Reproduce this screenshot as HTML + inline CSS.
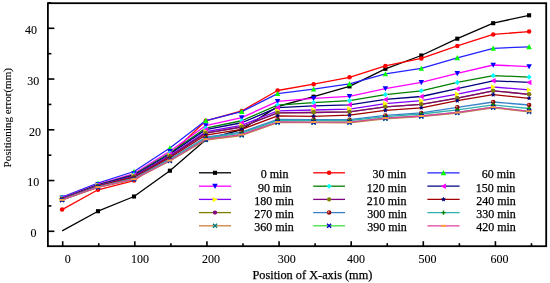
<!DOCTYPE html>
<html><head><meta charset="utf-8"><style>
html,body{margin:0;padding:0;background:#fff;}
body{width:550px;height:283px;overflow:hidden;}
svg{display:block;}
text{font-family:"Liberation Serif","Times New Roman",serif;fill:#000;stroke:#000;stroke-width:0.25px;}
.tl{font-size:12px;}
.tl text{stroke-width:0.1px;}
.lg{font-size:12px;}
.at{font-size:12.3px;}
.yt{font-size:11.1px;stroke-width:0.1px;}
</style></head><body>
<svg width="550" height="283" viewBox="0 0 550 283">
<rect width="550" height="283" fill="#fff"/>
<g>
<polyline points="62.10,230.90 98.00,211.20 134.00,196.50 169.90,170.70 205.80,139.70 241.70,129.50 277.60,106.50 313.60,96.70 349.50,86.40 385.40,68.80 421.30,55.50 457.30,38.70 493.20,23.20 529.10,15.30" fill="none" stroke="#000000" stroke-width="1.3" stroke-linejoin="round"/>
<rect x="95.95" y="209.15" width="4.10" height="4.10" fill="#000000"/>
<rect x="131.95" y="194.45" width="4.10" height="4.10" fill="#000000"/>
<rect x="167.85" y="168.65" width="4.10" height="4.10" fill="#000000"/>
<rect x="203.75" y="137.65" width="4.10" height="4.10" fill="#000000"/>
<rect x="239.65" y="127.45" width="4.10" height="4.10" fill="#000000"/>
<rect x="275.55" y="104.45" width="4.10" height="4.10" fill="#000000"/>
<rect x="311.55" y="94.65" width="4.10" height="4.10" fill="#000000"/>
<rect x="347.45" y="84.35" width="4.10" height="4.10" fill="#000000"/>
<rect x="383.35" y="66.75" width="4.10" height="4.10" fill="#000000"/>
<rect x="419.25" y="53.45" width="4.10" height="4.10" fill="#000000"/>
<rect x="455.25" y="36.65" width="4.10" height="4.10" fill="#000000"/>
<rect x="491.15" y="21.15" width="4.10" height="4.10" fill="#000000"/>
<rect x="527.05" y="13.25" width="4.10" height="4.10" fill="#000000"/>
<polyline points="62.10,209.60 98.00,189.80 134.00,180.60 169.90,155.00 205.80,120.80 241.70,111.00 277.60,90.50 313.60,84.20 349.50,77.30 385.40,65.90 421.30,58.40 457.30,45.90 493.20,34.40 529.10,31.60" fill="none" stroke="#ff0000" stroke-width="1.3" stroke-linejoin="round"/>
<circle cx="62.10" cy="209.60" r="2.25" fill="#ff0000"/>
<circle cx="98.00" cy="189.80" r="2.25" fill="#ff0000"/>
<circle cx="134.00" cy="180.60" r="2.25" fill="#ff0000"/>
<circle cx="169.90" cy="155.00" r="2.25" fill="#ff0000"/>
<circle cx="205.80" cy="120.80" r="2.25" fill="#ff0000"/>
<circle cx="241.70" cy="111.00" r="2.25" fill="#ff0000"/>
<circle cx="277.60" cy="90.50" r="2.25" fill="#ff0000"/>
<circle cx="313.60" cy="84.20" r="2.25" fill="#ff0000"/>
<circle cx="349.50" cy="77.30" r="2.25" fill="#ff0000"/>
<circle cx="385.40" cy="65.90" r="2.25" fill="#ff0000"/>
<circle cx="421.30" cy="58.40" r="2.25" fill="#ff0000"/>
<circle cx="457.30" cy="45.90" r="2.25" fill="#ff0000"/>
<circle cx="493.20" cy="34.40" r="2.25" fill="#ff0000"/>
<circle cx="529.10" cy="31.60" r="2.25" fill="#ff0000"/>
<polyline points="62.10,197.20 98.00,183.20 134.00,171.50 169.90,148.00 205.80,120.60 241.70,111.60 277.60,93.70 313.60,89.20 349.50,83.80 385.40,73.90 421.30,68.40 457.30,57.80 493.20,48.30 529.10,46.80" fill="none" stroke="#2222ff" stroke-width="1.3" stroke-linejoin="round"/>
<polygon points="62.10,194.45 64.85,199.55 59.35,199.55" fill="#00ff00"/>
<polygon points="98.00,180.45 100.75,185.55 95.25,185.55" fill="#00ff00"/>
<polygon points="134.00,168.75 136.75,173.85 131.25,173.85" fill="#00ff00"/>
<polygon points="169.90,145.25 172.65,150.35 167.15,150.35" fill="#00ff00"/>
<polygon points="205.80,117.85 208.55,122.95 203.05,122.95" fill="#00ff00"/>
<polygon points="241.70,108.85 244.45,113.95 238.95,113.95" fill="#00ff00"/>
<polygon points="277.60,90.95 280.35,96.05 274.85,96.05" fill="#00ff00"/>
<polygon points="313.60,86.45 316.35,91.55 310.85,91.55" fill="#00ff00"/>
<polygon points="349.50,81.05 352.25,86.15 346.75,86.15" fill="#00ff00"/>
<polygon points="385.40,71.15 388.15,76.25 382.65,76.25" fill="#00ff00"/>
<polygon points="421.30,65.65 424.05,70.75 418.55,70.75" fill="#00ff00"/>
<polygon points="457.30,55.05 460.05,60.15 454.55,60.15" fill="#00ff00"/>
<polygon points="493.20,45.55 495.95,50.65 490.45,50.65" fill="#00ff00"/>
<polygon points="529.10,44.05 531.85,49.15 526.35,49.15" fill="#00ff00"/>
<polyline points="62.10,197.91 98.00,184.25 134.00,173.54 169.90,151.31 205.80,125.55 241.70,117.69 277.60,101.30 313.60,98.40 349.50,96.40 385.40,88.60 421.30,82.40 457.30,73.40 493.20,65.00 529.10,66.60" fill="none" stroke="#ff00ff" stroke-width="1.3" stroke-linejoin="round"/>
<polygon points="62.10,200.66 64.85,195.56 59.35,195.56" fill="#0000ff"/>
<polygon points="98.00,187.00 100.75,181.90 95.25,181.90" fill="#0000ff"/>
<polygon points="134.00,176.29 136.75,171.19 131.25,171.19" fill="#0000ff"/>
<polygon points="169.90,154.06 172.65,148.97 167.15,148.97" fill="#0000ff"/>
<polygon points="205.80,128.30 208.55,123.20 203.05,123.20" fill="#0000ff"/>
<polygon points="241.70,120.44 244.45,115.34 238.95,115.34" fill="#0000ff"/>
<polygon points="277.60,104.05 280.35,98.95 274.85,98.95" fill="#0000ff"/>
<polygon points="313.60,101.15 316.35,96.05 310.85,96.05" fill="#0000ff"/>
<polygon points="349.50,99.15 352.25,94.05 346.75,94.05" fill="#0000ff"/>
<polygon points="385.40,91.35 388.15,86.25 382.65,86.25" fill="#0000ff"/>
<polygon points="421.30,85.15 424.05,80.05 418.55,80.05" fill="#0000ff"/>
<polygon points="457.30,76.15 460.05,71.05 454.55,71.05" fill="#0000ff"/>
<polygon points="493.20,67.75 495.95,62.65 490.45,62.65" fill="#0000ff"/>
<polygon points="529.10,69.35 531.85,64.25 526.35,64.25" fill="#0000ff"/>
<polyline points="62.10,198.27 98.00,184.77 134.00,174.56 169.90,152.98 205.80,128.03 241.70,120.75 277.60,105.10 313.60,102.60 349.50,100.60 385.40,94.60 421.30,90.80 457.30,82.40 493.20,75.60 529.10,77.10" fill="none" stroke="#008000" stroke-width="1.3" stroke-linejoin="round"/>
<polygon points="62.10,195.72 64.65,198.27 62.10,200.82 59.55,198.27" fill="#00ffff"/>
<polygon points="98.00,182.22 100.55,184.77 98.00,187.32 95.45,184.77" fill="#00ffff"/>
<polygon points="134.00,172.01 136.55,174.56 134.00,177.11 131.45,174.56" fill="#00ffff"/>
<polygon points="169.90,150.43 172.45,152.98 169.90,155.53 167.35,152.98" fill="#00ffff"/>
<polygon points="205.80,125.48 208.35,128.03 205.80,130.58 203.25,128.03" fill="#00ffff"/>
<polygon points="241.70,118.20 244.25,120.75 241.70,123.30 239.15,120.75" fill="#00ffff"/>
<polygon points="277.60,102.55 280.15,105.10 277.60,107.65 275.05,105.10" fill="#00ffff"/>
<polygon points="313.60,100.05 316.15,102.60 313.60,105.15 311.05,102.60" fill="#00ffff"/>
<polygon points="349.50,98.05 352.05,100.60 349.50,103.15 346.95,100.60" fill="#00ffff"/>
<polygon points="385.40,92.05 387.95,94.60 385.40,97.15 382.85,94.60" fill="#00ffff"/>
<polygon points="421.30,88.25 423.85,90.80 421.30,93.35 418.75,90.80" fill="#00ffff"/>
<polygon points="457.30,79.85 459.85,82.40 457.30,84.95 454.75,82.40" fill="#00ffff"/>
<polygon points="493.20,73.05 495.75,75.60 493.20,78.15 490.65,75.60" fill="#00ffff"/>
<polygon points="529.10,74.55 531.65,77.10 529.10,79.65 526.55,77.10" fill="#00ffff"/>
<polyline points="62.10,198.50 98.00,185.11 134.00,175.23 169.90,154.06 205.80,129.64 241.70,122.74 277.60,107.60 313.60,105.90 349.50,104.80 385.40,99.40 421.30,96.50 457.30,88.70 493.20,80.80 529.10,82.40" fill="none" stroke="#000080" stroke-width="1.3" stroke-linejoin="round"/>
<polygon points="59.35,198.50 64.45,195.75 64.45,201.25" fill="#ff00ff"/>
<polygon points="95.25,185.11 100.35,182.36 100.35,187.86" fill="#ff00ff"/>
<polygon points="131.25,175.23 136.35,172.48 136.35,177.98" fill="#ff00ff"/>
<polygon points="167.15,154.06 172.25,151.31 172.25,156.81" fill="#ff00ff"/>
<polygon points="203.05,129.64 208.15,126.89 208.15,132.39" fill="#ff00ff"/>
<polygon points="238.95,122.74 244.05,119.99 244.05,125.49" fill="#ff00ff"/>
<polygon points="274.85,107.60 279.95,104.85 279.95,110.35" fill="#ff00ff"/>
<polygon points="310.85,105.90 315.95,103.15 315.95,108.65" fill="#ff00ff"/>
<polygon points="346.75,104.80 351.85,102.05 351.85,107.55" fill="#ff00ff"/>
<polygon points="382.65,99.40 387.75,96.65 387.75,102.15" fill="#ff00ff"/>
<polygon points="418.55,96.50 423.65,93.75 423.65,99.25" fill="#ff00ff"/>
<polygon points="454.55,88.70 459.65,85.95 459.65,91.45" fill="#ff00ff"/>
<polygon points="490.45,80.80 495.55,78.05 495.55,83.55" fill="#ff00ff"/>
<polygon points="526.35,82.40 531.45,79.65 531.45,85.15" fill="#ff00ff"/>
<polyline points="62.10,198.81 98.00,185.55 134.00,176.09 169.90,155.46 205.80,131.74 241.70,125.32 277.60,110.80 313.60,110.00 349.50,109.10 385.40,103.70 421.30,100.70 457.30,94.20 493.20,87.00 529.10,89.90" fill="none" stroke="#8000ff" stroke-width="1.3" stroke-linejoin="round"/>
<polygon points="64.85,198.81 59.75,196.06 59.75,201.56" fill="#ffff00"/>
<polygon points="100.75,185.55 95.65,182.80 95.65,188.30" fill="#ffff00"/>
<polygon points="136.75,176.09 131.65,173.34 131.65,178.84" fill="#ffff00"/>
<polygon points="172.65,155.46 167.55,152.71 167.55,158.21" fill="#ffff00"/>
<polygon points="208.55,131.74 203.45,128.99 203.45,134.49" fill="#ffff00"/>
<polygon points="244.45,125.32 239.35,122.57 239.35,128.07" fill="#ffff00"/>
<polygon points="280.35,110.80 275.25,108.05 275.25,113.55" fill="#ffff00"/>
<polygon points="316.35,110.00 311.25,107.25 311.25,112.75" fill="#ffff00"/>
<polygon points="352.25,109.10 347.15,106.35 347.15,111.85" fill="#ffff00"/>
<polygon points="388.15,103.70 383.05,100.95 383.05,106.45" fill="#ffff00"/>
<polygon points="424.05,100.70 418.95,97.95 418.95,103.45" fill="#ffff00"/>
<polygon points="460.05,94.20 454.95,91.45 454.95,96.95" fill="#ffff00"/>
<polygon points="495.95,87.00 490.85,84.25 490.85,89.75" fill="#ffff00"/>
<polygon points="531.85,89.90 526.75,87.15 526.75,92.65" fill="#ffff00"/>
<polyline points="62.10,199.00 98.00,185.84 134.00,176.65 169.90,156.37 205.80,133.09 241.70,126.99 277.60,112.90 313.60,112.50 349.50,111.90 385.40,106.80 421.30,104.40 457.30,98.20 493.20,90.80 529.10,94.30" fill="none" stroke="#808000" stroke-width="1.3" stroke-linejoin="round"/>
<circle cx="62.10" cy="199.00" r="2.15" fill="#800080"/>
<circle cx="98.00" cy="185.84" r="2.15" fill="#800080"/>
<circle cx="134.00" cy="176.65" r="2.15" fill="#800080"/>
<circle cx="169.90" cy="156.37" r="2.15" fill="#800080"/>
<circle cx="205.80" cy="133.09" r="2.15" fill="#800080"/>
<circle cx="241.70" cy="126.99" r="2.15" fill="#800080"/>
<circle cx="277.60" cy="112.90" r="2.15" fill="#800080"/>
<circle cx="313.60" cy="112.50" r="2.15" fill="#800080"/>
<circle cx="349.50" cy="111.90" r="2.15" fill="#800080"/>
<circle cx="385.40" cy="106.80" r="2.15" fill="#800080"/>
<circle cx="421.30" cy="104.40" r="2.15" fill="#800080"/>
<circle cx="457.30" cy="98.20" r="2.15" fill="#800080"/>
<circle cx="493.20" cy="90.80" r="2.15" fill="#800080"/>
<circle cx="529.10" cy="94.30" r="2.15" fill="#800080"/>
<polyline points="62.10,199.00 98.00,185.84 134.00,176.65 169.90,156.37 205.80,133.09 241.70,126.99 277.60,112.90 313.60,112.50 349.50,111.90 385.40,106.80 421.30,104.40 457.30,98.20 493.20,90.80 529.10,94.30" fill="none" stroke="#800080" stroke-width="1.3" stroke-linejoin="round"/>
<circle cx="62.10" cy="199.00" r="2.15" fill="#808000"/>
<circle cx="98.00" cy="185.84" r="2.15" fill="#808000"/>
<circle cx="134.00" cy="176.65" r="2.15" fill="#808000"/>
<circle cx="169.90" cy="156.37" r="2.15" fill="#808000"/>
<circle cx="205.80" cy="133.09" r="2.15" fill="#808000"/>
<circle cx="241.70" cy="126.99" r="2.15" fill="#808000"/>
<circle cx="277.60" cy="112.90" r="2.15" fill="#808000"/>
<circle cx="313.60" cy="112.50" r="2.15" fill="#808000"/>
<circle cx="349.50" cy="111.90" r="2.15" fill="#808000"/>
<circle cx="385.40" cy="106.80" r="2.15" fill="#808000"/>
<circle cx="421.30" cy="104.40" r="2.15" fill="#808000"/>
<circle cx="457.30" cy="98.20" r="2.15" fill="#808000"/>
<circle cx="493.20" cy="90.80" r="2.15" fill="#808000"/>
<circle cx="529.10" cy="94.30" r="2.15" fill="#808000"/>
<polyline points="62.10,199.29 98.00,186.25 134.00,177.46 169.90,157.69 205.80,135.05 241.70,129.41 277.60,115.90 313.60,116.30 349.50,115.20 385.40,110.40 421.30,107.80 457.30,100.60 493.20,94.60 529.10,98.30" fill="none" stroke="#a00000" stroke-width="1.3" stroke-linejoin="round"/>
<polygon points="62.10,196.74 62.85,198.25 64.53,198.50 63.31,199.68 63.60,201.35 62.10,200.56 60.60,201.35 60.89,199.68 59.67,198.50 61.35,198.25" fill="#000080"/>
<polygon points="98.00,183.70 98.75,185.22 100.43,185.47 99.21,186.65 99.50,188.32 98.00,187.53 96.50,188.32 96.79,186.65 95.57,185.47 97.25,185.22" fill="#000080"/>
<polygon points="134.00,174.91 134.75,176.43 136.43,176.67 135.21,177.85 135.50,179.52 134.00,178.74 132.50,179.52 132.79,177.85 131.57,176.67 133.25,176.43" fill="#000080"/>
<polygon points="169.90,155.13 170.65,156.65 172.33,156.90 171.11,158.08 171.40,159.75 169.90,158.96 168.40,159.75 168.69,158.08 167.47,156.90 169.15,156.65" fill="#000080"/>
<polygon points="205.80,132.50 206.55,134.02 208.23,134.27 207.01,135.45 207.30,137.12 205.80,136.33 204.30,137.12 204.59,135.45 203.37,134.27 205.05,134.02" fill="#000080"/>
<polygon points="241.70,126.86 242.45,128.37 244.13,128.62 242.91,129.80 243.20,131.47 241.70,130.68 240.20,131.47 240.49,129.80 239.27,128.62 240.95,128.37" fill="#000080"/>
<polygon points="277.60,113.35 278.35,114.87 280.03,115.11 278.81,116.29 279.10,117.96 277.60,117.18 276.10,117.96 276.39,116.29 275.17,115.11 276.85,114.87" fill="#000080"/>
<polygon points="313.60,113.75 314.35,115.27 316.03,115.51 314.81,116.69 315.10,118.36 313.60,117.58 312.10,118.36 312.39,116.69 311.17,115.51 312.85,115.27" fill="#000080"/>
<polygon points="349.50,112.65 350.25,114.17 351.93,114.41 350.71,115.59 351.00,117.26 349.50,116.48 348.00,117.26 348.29,115.59 347.07,114.41 348.75,114.17" fill="#000080"/>
<polygon points="385.40,107.85 386.15,109.37 387.83,109.61 386.61,110.79 386.90,112.46 385.40,111.68 383.90,112.46 384.19,110.79 382.97,109.61 384.65,109.37" fill="#000080"/>
<polygon points="421.30,105.25 422.05,106.77 423.73,107.01 422.51,108.19 422.80,109.86 421.30,109.08 419.80,109.86 420.09,108.19 418.87,107.01 420.55,106.77" fill="#000080"/>
<polygon points="457.30,98.05 458.05,99.57 459.73,99.81 458.51,100.99 458.80,102.66 457.30,101.88 455.80,102.66 456.09,100.99 454.87,99.81 456.55,99.57" fill="#000080"/>
<polygon points="493.20,92.05 493.95,93.57 495.63,93.81 494.41,94.99 494.70,96.66 493.20,95.88 491.70,96.66 491.99,94.99 490.77,93.81 492.45,93.57" fill="#000080"/>
<polygon points="529.10,95.75 529.85,97.27 531.53,97.51 530.31,98.69 530.60,100.36 529.10,99.58 527.60,100.36 527.89,98.69 526.67,97.51 528.35,97.27" fill="#000080"/>
<polyline points="62.10,199.61 98.00,186.72 134.00,178.37 169.90,159.17 205.80,137.26 241.70,132.13 277.60,119.30 313.60,119.60 349.50,119.70 385.40,115.40 421.30,112.90 457.30,107.30 493.20,102.00 529.10,105.00" fill="none" stroke="#3a80c8" stroke-width="1.3" stroke-linejoin="round"/>
<circle cx="62.10" cy="199.61" r="2.25" fill="#900000"/><circle cx="61.50" cy="199.01" r="0.9" fill="#e08080"/>
<circle cx="98.00" cy="186.72" r="2.25" fill="#900000"/><circle cx="97.40" cy="186.12" r="0.9" fill="#e08080"/>
<circle cx="134.00" cy="178.37" r="2.25" fill="#900000"/><circle cx="133.40" cy="177.77" r="0.9" fill="#e08080"/>
<circle cx="169.90" cy="159.17" r="2.25" fill="#900000"/><circle cx="169.30" cy="158.57" r="0.9" fill="#e08080"/>
<circle cx="205.80" cy="137.26" r="2.25" fill="#900000"/><circle cx="205.20" cy="136.66" r="0.9" fill="#e08080"/>
<circle cx="241.70" cy="132.13" r="2.25" fill="#900000"/><circle cx="241.10" cy="131.53" r="0.9" fill="#e08080"/>
<circle cx="277.60" cy="119.30" r="2.25" fill="#900000"/><circle cx="277.00" cy="118.70" r="0.9" fill="#e08080"/>
<circle cx="313.60" cy="119.60" r="2.25" fill="#900000"/><circle cx="313.00" cy="119.00" r="0.9" fill="#e08080"/>
<circle cx="349.50" cy="119.70" r="2.25" fill="#900000"/><circle cx="348.90" cy="119.10" r="0.9" fill="#e08080"/>
<circle cx="385.40" cy="115.40" r="2.25" fill="#900000"/><circle cx="384.80" cy="114.80" r="0.9" fill="#e08080"/>
<circle cx="421.30" cy="112.90" r="2.25" fill="#900000"/><circle cx="420.70" cy="112.30" r="0.9" fill="#e08080"/>
<circle cx="457.30" cy="107.30" r="2.25" fill="#900000"/><circle cx="456.70" cy="106.70" r="0.9" fill="#e08080"/>
<circle cx="493.20" cy="102.00" r="2.25" fill="#900000"/><circle cx="492.60" cy="101.40" r="0.9" fill="#e08080"/>
<circle cx="529.10" cy="105.00" r="2.25" fill="#900000"/><circle cx="528.50" cy="104.40" r="0.9" fill="#e08080"/>
<polyline points="62.10,199.72 98.00,186.89 134.00,178.70 169.90,159.70 205.80,138.06 241.70,133.11 277.60,120.30 313.60,120.40 349.50,120.50 385.40,116.60 421.30,114.00 457.30,109.80 493.20,104.80 529.10,108.50" fill="none" stroke="#30b0b0" stroke-width="1.3" stroke-linejoin="round"/>
<path d="M60.05 199.72H64.15M62.10 197.67V201.77" stroke="#008000" stroke-width="1.4" fill="none"/>
<path d="M95.95 186.89H100.05M98.00 184.84V188.94" stroke="#008000" stroke-width="1.4" fill="none"/>
<path d="M131.95 178.70H136.05M134.00 176.65V180.75" stroke="#008000" stroke-width="1.4" fill="none"/>
<path d="M167.85 159.70H171.95M169.90 157.65V161.75" stroke="#008000" stroke-width="1.4" fill="none"/>
<path d="M203.75 138.06H207.85M205.80 136.01V140.11" stroke="#008000" stroke-width="1.4" fill="none"/>
<path d="M239.65 133.11H243.75M241.70 131.06V135.16" stroke="#008000" stroke-width="1.4" fill="none"/>
<path d="M275.55 120.30H279.65M277.60 118.25V122.35" stroke="#008000" stroke-width="1.4" fill="none"/>
<path d="M311.55 120.40H315.65M313.60 118.35V122.45" stroke="#008000" stroke-width="1.4" fill="none"/>
<path d="M347.45 120.50H351.55M349.50 118.45V122.55" stroke="#008000" stroke-width="1.4" fill="none"/>
<path d="M383.35 116.60H387.45M385.40 114.55V118.65" stroke="#008000" stroke-width="1.4" fill="none"/>
<path d="M419.25 114.00H423.35M421.30 111.95V116.05" stroke="#008000" stroke-width="1.4" fill="none"/>
<path d="M455.25 109.80H459.35M457.30 107.75V111.85" stroke="#008000" stroke-width="1.4" fill="none"/>
<path d="M491.15 104.80H495.25M493.20 102.75V106.85" stroke="#008000" stroke-width="1.4" fill="none"/>
<path d="M527.05 108.50H531.15M529.10 106.45V110.55" stroke="#008000" stroke-width="1.4" fill="none"/>
<polyline points="62.10,200.00 98.00,187.30 134.00,179.50 169.90,161.00 205.80,140.00 241.70,135.50 277.60,122.60 313.60,122.70 349.50,122.80 385.40,118.80 421.30,116.60 457.30,113.00 493.20,107.80 529.10,111.90" fill="none" stroke="#d08040" stroke-width="1.3" stroke-linejoin="round"/>
<path d="M60.05 197.95L64.15 202.05M64.15 197.95L60.05 202.05" stroke="#008080" stroke-width="1.4" fill="none"/>
<path d="M95.95 185.25L100.05 189.35M100.05 185.25L95.95 189.35" stroke="#008080" stroke-width="1.4" fill="none"/>
<path d="M131.95 177.45L136.05 181.55M136.05 177.45L131.95 181.55" stroke="#008080" stroke-width="1.4" fill="none"/>
<path d="M167.85 158.95L171.95 163.05M171.95 158.95L167.85 163.05" stroke="#008080" stroke-width="1.4" fill="none"/>
<path d="M203.75 137.95L207.85 142.05M207.85 137.95L203.75 142.05" stroke="#008080" stroke-width="1.4" fill="none"/>
<path d="M239.65 133.45L243.75 137.55M243.75 133.45L239.65 137.55" stroke="#008080" stroke-width="1.4" fill="none"/>
<path d="M275.55 120.55L279.65 124.65M279.65 120.55L275.55 124.65" stroke="#008080" stroke-width="1.4" fill="none"/>
<path d="M311.55 120.65L315.65 124.75M315.65 120.65L311.55 124.75" stroke="#008080" stroke-width="1.4" fill="none"/>
<path d="M347.45 120.75L351.55 124.85M351.55 120.75L347.45 124.85" stroke="#008080" stroke-width="1.4" fill="none"/>
<path d="M383.35 116.75L387.45 120.85M387.45 116.75L383.35 120.85" stroke="#008080" stroke-width="1.4" fill="none"/>
<path d="M419.25 114.55L423.35 118.65M423.35 114.55L419.25 118.65" stroke="#008080" stroke-width="1.4" fill="none"/>
<path d="M455.25 110.95L459.35 115.05M459.35 110.95L455.25 115.05" stroke="#008080" stroke-width="1.4" fill="none"/>
<path d="M491.15 105.75L495.25 109.85M495.25 105.75L491.15 109.85" stroke="#008080" stroke-width="1.4" fill="none"/>
<path d="M527.05 109.85L531.15 113.95M531.15 109.85L527.05 113.95" stroke="#008080" stroke-width="1.4" fill="none"/>
<polyline points="62.10,199.89 98.00,187.14 134.00,179.18 169.90,160.48 205.80,139.22 241.70,134.54 277.60,122.00 313.60,122.10 349.50,122.20 385.40,118.20 421.30,116.00 457.30,112.50 493.20,107.20 529.10,111.30" fill="none" stroke="#40e040" stroke-width="1.3" stroke-linejoin="round"/>
<path d="M60.05 197.84L64.15 201.94M64.15 197.84L60.05 201.94" stroke="#0000c0" stroke-width="1.4" fill="none"/>
<path d="M95.95 185.09L100.05 189.19M100.05 185.09L95.95 189.19" stroke="#0000c0" stroke-width="1.4" fill="none"/>
<path d="M131.95 177.13L136.05 181.23M136.05 177.13L131.95 181.23" stroke="#0000c0" stroke-width="1.4" fill="none"/>
<path d="M167.85 158.43L171.95 162.53M171.95 158.43L167.85 162.53" stroke="#0000c0" stroke-width="1.4" fill="none"/>
<path d="M203.75 137.17L207.85 141.27M207.85 137.17L203.75 141.27" stroke="#0000c0" stroke-width="1.4" fill="none"/>
<path d="M239.65 132.49L243.75 136.59M243.75 132.49L239.65 136.59" stroke="#0000c0" stroke-width="1.4" fill="none"/>
<path d="M275.55 119.95L279.65 124.05M279.65 119.95L275.55 124.05" stroke="#0000c0" stroke-width="1.4" fill="none"/>
<path d="M311.55 120.05L315.65 124.15M315.65 120.05L311.55 124.15" stroke="#0000c0" stroke-width="1.4" fill="none"/>
<path d="M347.45 120.15L351.55 124.25M351.55 120.15L347.45 124.25" stroke="#0000c0" stroke-width="1.4" fill="none"/>
<path d="M383.35 116.15L387.45 120.25M387.45 116.15L383.35 120.25" stroke="#0000c0" stroke-width="1.4" fill="none"/>
<path d="M419.25 113.95L423.35 118.05M423.35 113.95L419.25 118.05" stroke="#0000c0" stroke-width="1.4" fill="none"/>
<path d="M455.25 110.45L459.35 114.55M459.35 110.45L455.25 114.55" stroke="#0000c0" stroke-width="1.4" fill="none"/>
<path d="M491.15 105.15L495.25 109.25M495.25 105.15L491.15 109.25" stroke="#0000c0" stroke-width="1.4" fill="none"/>
<path d="M527.05 109.25L531.15 113.35M531.15 109.25L527.05 113.35" stroke="#0000c0" stroke-width="1.4" fill="none"/>
<polyline points="62.10,199.89 98.00,187.14 134.00,179.18 169.90,160.48 205.80,139.22 241.70,134.54 277.60,122.00 313.60,122.10 349.50,122.20 385.40,118.20 421.30,116.00 457.30,112.50 493.20,107.20 529.10,111.30" fill="none" stroke="#e040a0" stroke-width="1.3" stroke-linejoin="round"/>
<rect x="59.55" y="198.89" width="5.10" height="2" fill="#ffa040"/>
<rect x="95.45" y="186.14" width="5.10" height="2" fill="#ffa040"/>
<rect x="131.45" y="178.18" width="5.10" height="2" fill="#ffa040"/>
<rect x="167.35" y="159.48" width="5.10" height="2" fill="#ffa040"/>
<rect x="203.25" y="138.22" width="5.10" height="2" fill="#ffa040"/>
<rect x="239.15" y="133.54" width="5.10" height="2" fill="#ffa040"/>
<rect x="275.05" y="121.00" width="5.10" height="2" fill="#ffa040"/>
<rect x="311.05" y="121.10" width="5.10" height="2" fill="#ffa040"/>
<rect x="346.95" y="121.20" width="5.10" height="2" fill="#ffa040"/>
<rect x="382.85" y="117.20" width="5.10" height="2" fill="#ffa040"/>
<rect x="418.75" y="115.00" width="5.10" height="2" fill="#ffa040"/>
<rect x="454.75" y="111.50" width="5.10" height="2" fill="#ffa040"/>
<rect x="490.65" y="106.20" width="5.10" height="2" fill="#ffa040"/>
<rect x="526.55" y="110.30" width="5.10" height="2" fill="#ffa040"/>
</g>
<g>
<rect x="47.9" y="3.2" width="498.30" height="243.00" fill="none" stroke="#000" stroke-width="1.8"/>
<line x1="47.9" y1="231.30" x2="54.40" y2="231.30" stroke="#000" stroke-width="1.6"/>
<line x1="47.9" y1="205.93" x2="51.40" y2="205.93" stroke="#000" stroke-width="1.6"/>
<line x1="47.9" y1="180.55" x2="54.40" y2="180.55" stroke="#000" stroke-width="1.6"/>
<line x1="47.9" y1="155.18" x2="51.40" y2="155.18" stroke="#000" stroke-width="1.6"/>
<line x1="47.9" y1="129.80" x2="54.40" y2="129.80" stroke="#000" stroke-width="1.6"/>
<line x1="47.9" y1="104.43" x2="51.40" y2="104.43" stroke="#000" stroke-width="1.6"/>
<line x1="47.9" y1="79.05" x2="54.40" y2="79.05" stroke="#000" stroke-width="1.6"/>
<line x1="47.9" y1="53.68" x2="51.40" y2="53.68" stroke="#000" stroke-width="1.6"/>
<line x1="47.9" y1="28.30" x2="54.40" y2="28.30" stroke="#000" stroke-width="1.6"/>
<line x1="47.9" y1="2.93" x2="51.40" y2="2.93" stroke="#000" stroke-width="1.6"/>
<line x1="62.70" y1="246.2" x2="62.70" y2="241.20" stroke="#000" stroke-width="1.6"/>
<line x1="98.76" y1="246.2" x2="98.76" y2="243.20" stroke="#000" stroke-width="1.6"/>
<line x1="134.82" y1="246.2" x2="134.82" y2="241.20" stroke="#000" stroke-width="1.6"/>
<line x1="170.88" y1="246.2" x2="170.88" y2="243.20" stroke="#000" stroke-width="1.6"/>
<line x1="206.94" y1="246.2" x2="206.94" y2="241.20" stroke="#000" stroke-width="1.6"/>
<line x1="243.00" y1="246.2" x2="243.00" y2="243.20" stroke="#000" stroke-width="1.6"/>
<line x1="279.06" y1="246.2" x2="279.06" y2="241.20" stroke="#000" stroke-width="1.6"/>
<line x1="315.12" y1="246.2" x2="315.12" y2="243.20" stroke="#000" stroke-width="1.6"/>
<line x1="351.18" y1="246.2" x2="351.18" y2="241.20" stroke="#000" stroke-width="1.6"/>
<line x1="387.24" y1="246.2" x2="387.24" y2="243.20" stroke="#000" stroke-width="1.6"/>
<line x1="423.30" y1="246.2" x2="423.30" y2="241.20" stroke="#000" stroke-width="1.6"/>
<line x1="459.36" y1="246.2" x2="459.36" y2="243.20" stroke="#000" stroke-width="1.6"/>
<line x1="495.42" y1="246.2" x2="495.42" y2="241.20" stroke="#000" stroke-width="1.6"/>
<line x1="531.48" y1="246.2" x2="531.48" y2="243.20" stroke="#000" stroke-width="1.6"/>
</g>
<g class="tl">
<text x="33.50" y="237.15" text-anchor="middle">0</text>
<text x="33.30" y="186.35" text-anchor="middle">10</text>
<text x="34.90" y="135.65" text-anchor="middle">20</text>
<text x="33.20" y="84.95" text-anchor="middle">30</text>
<text x="30.90" y="34.05" text-anchor="middle">40</text>
<text x="67.80" y="263" text-anchor="middle">0</text>
<text x="140.05" y="263" text-anchor="middle">100</text>
<text x="211.00" y="263" text-anchor="middle">200</text>
<text x="286.80" y="263" text-anchor="middle">300</text>
<text x="356.00" y="263" text-anchor="middle">400</text>
<text x="427.50" y="263" text-anchor="middle">500</text>
<text x="499.60" y="263" text-anchor="middle">600</text>
</g>
<g class="lg">
<line x1="199.0" y1="172.8" x2="231.0" y2="172.8" stroke="#000000" stroke-width="1.3"/>
<rect x="212.95" y="170.75" width="4.10" height="4.10" fill="#000000"/>
<text x="288.4" y="178.10" text-anchor="end">0 min</text>
<line x1="199.0" y1="186.2" x2="231.0" y2="186.2" stroke="#ff00ff" stroke-width="1.3"/>
<polygon points="215.00,188.95 217.75,183.85 212.25,183.85" fill="#0000ff"/>
<text x="291.6" y="191.50" text-anchor="end">90 min</text>
<line x1="199.0" y1="199.4" x2="231.0" y2="199.4" stroke="#8000ff" stroke-width="1.3"/>
<polygon points="217.75,199.40 212.65,196.65 212.65,202.15" fill="#ffff00"/>
<text x="293.8" y="204.70" text-anchor="end">180 min</text>
<line x1="199.0" y1="212.6" x2="231.0" y2="212.6" stroke="#808000" stroke-width="1.3"/>
<circle cx="215.00" cy="212.60" r="2.15" fill="#800080"/>
<text x="293.8" y="217.90" text-anchor="end">270 min</text>
<line x1="199.0" y1="225.8" x2="231.0" y2="225.8" stroke="#d08040" stroke-width="1.3"/>
<path d="M212.95 223.75L217.05 227.85M217.05 223.75L212.95 227.85" stroke="#008080" stroke-width="1.4" fill="none"/>
<text x="293.8" y="231.10" text-anchor="end">360 min</text>
<line x1="313.2" y1="172.8" x2="345.0" y2="172.8" stroke="#ff0000" stroke-width="1.3"/>
<circle cx="329.10" cy="172.80" r="2.25" fill="#ff0000"/>
<text x="406.2" y="178.10" text-anchor="end">30 min</text>
<line x1="313.2" y1="186.2" x2="345.0" y2="186.2" stroke="#008000" stroke-width="1.3"/>
<polygon points="329.10,183.65 331.65,186.20 329.10,188.75 326.55,186.20" fill="#00ffff"/>
<text x="406.5" y="191.50" text-anchor="end">120 min</text>
<line x1="313.2" y1="199.4" x2="345.0" y2="199.4" stroke="#800080" stroke-width="1.3"/>
<circle cx="329.10" cy="199.40" r="2.15" fill="#808000"/>
<text x="406.4" y="204.70" text-anchor="end">210 min</text>
<line x1="313.2" y1="212.6" x2="345.0" y2="212.6" stroke="#3a80c8" stroke-width="1.3"/>
<circle cx="329.10" cy="212.60" r="2.25" fill="#900000"/><circle cx="328.50" cy="212.00" r="0.9" fill="#e08080"/>
<text x="406.8" y="217.90" text-anchor="end">300 min</text>
<line x1="313.2" y1="225.8" x2="345.0" y2="225.8" stroke="#40e040" stroke-width="1.3"/>
<path d="M327.05 223.75L331.15 227.85M331.15 223.75L327.05 227.85" stroke="#0000c0" stroke-width="1.4" fill="none"/>
<text x="406.8" y="231.10" text-anchor="end">390 min</text>
<line x1="427.4" y1="172.8" x2="459.6" y2="172.8" stroke="#2222ff" stroke-width="1.3"/>
<polygon points="443.50,170.05 446.25,175.15 440.75,175.15" fill="#00ff00"/>
<text x="515.3" y="178.10" text-anchor="end">60 min</text>
<line x1="427.4" y1="186.2" x2="459.6" y2="186.2" stroke="#000080" stroke-width="1.3"/>
<polygon points="440.75,186.20 445.85,183.45 445.85,188.95" fill="#ff00ff"/>
<text x="515.3" y="191.50" text-anchor="end">150 min</text>
<line x1="427.4" y1="199.4" x2="459.6" y2="199.4" stroke="#a00000" stroke-width="1.3"/>
<polygon points="443.50,196.85 444.25,198.37 445.93,198.61 444.71,199.79 445.00,201.46 443.50,200.68 442.00,201.46 442.29,199.79 441.07,198.61 442.75,198.37" fill="#000080"/>
<text x="515.8" y="204.70" text-anchor="end">240 min</text>
<line x1="427.4" y1="212.6" x2="459.6" y2="212.6" stroke="#30b0b0" stroke-width="1.3"/>
<path d="M441.45 212.60H445.55M443.50 210.55V214.65" stroke="#008000" stroke-width="1.4" fill="none"/>
<text x="515.8" y="217.90" text-anchor="end">330 min</text>
<line x1="427.4" y1="225.8" x2="459.6" y2="225.8" stroke="#e040a0" stroke-width="1.3"/>
<rect x="440.95" y="224.80" width="5.10" height="2" fill="#ffa040"/>
<text x="515.8" y="231.10" text-anchor="end">420 min</text>
</g>
<text class="at" x="312.4" y="278.6" text-anchor="middle">Position of X-axis (mm)</text>
<text class="yt" transform="translate(11.3,117.7) rotate(-90)" text-anchor="middle">Positioning error(mm)</text>
</svg>
</body></html>
